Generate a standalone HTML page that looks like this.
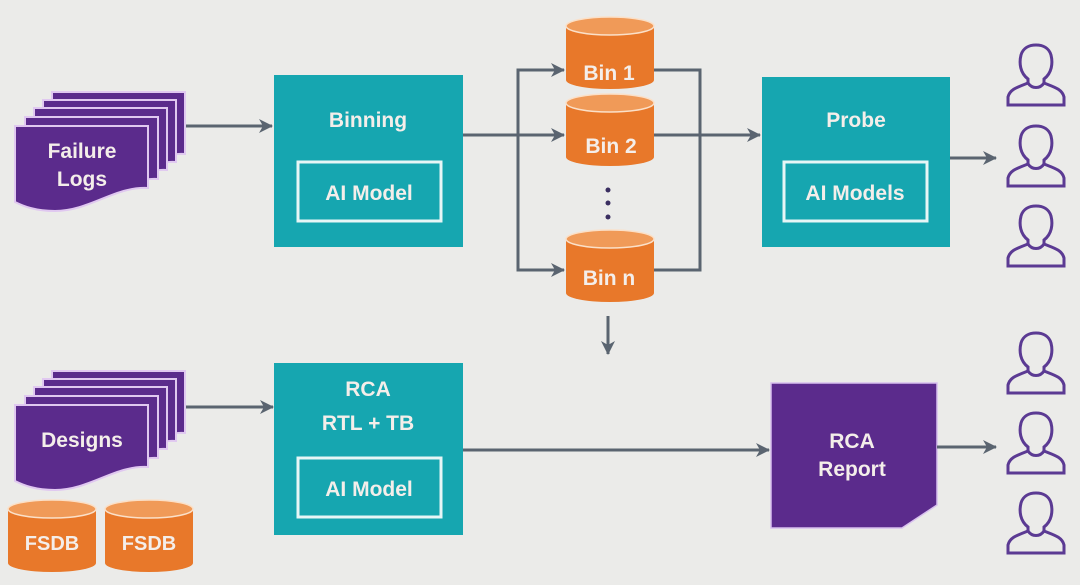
<!DOCTYPE html>
<html><head><meta charset="utf-8"><style>
html,body{margin:0;padding:0;background:#ebebe9;}
svg{display:block;}
text{font-family:"Liberation Sans",sans-serif;font-weight:bold;fill:#f4eeea;text-anchor:middle;}
</style></head><body>
<svg width="1080" height="585" viewBox="0 0 1080 585" xmlns="http://www.w3.org/2000/svg">
<defs>
<marker id="ah" markerWidth="14" markerHeight="14" refX="13" refY="7" orient="auto" markerUnits="userSpaceOnUse">
<path d="M0,0 L14,7 L0,14 L4,7 z" fill="#5a6470"/>
</marker>
<g id="page">
<path d="M0,0 H133 V62 C100,60 75,85 40,85 C20,85 8,80 0,76 Z" fill="#5b2b8c" stroke="#e0c8f0" stroke-width="2"/>
</g>
<g id="person" fill="none" stroke="#5b3a93" stroke-width="3">
<path d="M22,34 C14,28 13,18 15,10 C17,3 23,0 30,0 C37,0 43,3 45,10 C47,18 46,28 38,34 L38,38 C48,42 56,44 58,52 L58,60 L2,60 L2,52 C4,44 12,42 22,38 Z"/>
<path d="M22,38 C26,44 34,44 38,38"/>
</g>
<g id="cyl">
<path d="M0,9 V63 A44,9 0 0 0 88,63 V9 Z" fill="#e8782a"/>
<ellipse cx="44" cy="9" rx="44" ry="9" fill="#f09a58" stroke="#fbe0c8" stroke-width="1.5"/>
</g>
</defs>

<use href="#page" x="52" y="92"/>
<use href="#page" x="43" y="100"/>
<use href="#page" x="34" y="108"/>
<use href="#page" x="25" y="117"/>
<use href="#page" x="15" y="126"/>
<text x="82" y="158" font-size="21">Failure</text>
<text x="82" y="186" font-size="21">Logs</text>

<line x1="186" y1="126" x2="272" y2="126" stroke="#5a6470" stroke-width="3" marker-end="url(#ah)"/>

<rect x="274" y="75" width="189" height="172" fill="#16a6b0"/>
<text x="368" y="127" font-size="21">Binning</text>
<rect x="298" y="162" width="143" height="59" fill="none" stroke="#e6f6f6" stroke-width="3"/>
<text x="369" y="200" font-size="21">AI Model</text>

<line x1="463" y1="135" x2="564" y2="135" stroke="#5a6470" stroke-width="3" marker-end="url(#ah)"/>
<polyline points="563,70 518,70 518,270 563,270" fill="none" stroke="#5a6470" stroke-width="3"/>
<line x1="540" y1="70" x2="564" y2="70" stroke="#5a6470" stroke-width="3" marker-end="url(#ah)"/>
<line x1="540" y1="270" x2="564" y2="270" stroke="#5a6470" stroke-width="3" marker-end="url(#ah)"/>
<polyline points="653,70 700,70 700,270 653,270" fill="none" stroke="#5a6470" stroke-width="3"/>
<line x1="653" y1="135" x2="760" y2="135" stroke="#5a6470" stroke-width="3" marker-end="url(#ah)"/>
<line x1="608" y1="316" x2="608" y2="354" stroke="#5a6470" stroke-width="3" marker-end="url(#ah)"/>

<use href="#cyl" x="566" y="17"/>
<text x="609" y="80" font-size="21">Bin 1</text>
<use href="#cyl" x="566" y="94"/>
<text x="611" y="153" font-size="21">Bin 2</text>
<circle cx="608" cy="190" r="2.5" fill="#3a2e60"/>
<circle cx="608" cy="203" r="2.5" fill="#3a2e60"/>
<circle cx="608" cy="217" r="2.5" fill="#3a2e60"/>
<use href="#cyl" x="566" y="230"/>
<text x="609" y="285" font-size="21">Bin n</text>

<rect x="762" y="77" width="188" height="170" fill="#16a6b0"/>
<text x="856" y="127" font-size="21">Probe</text>
<rect x="784" y="162" width="143" height="59" fill="none" stroke="#e6f6f6" stroke-width="3"/>
<text x="855" y="200" font-size="21">AI Models</text>
<line x1="950" y1="158" x2="996" y2="158" stroke="#5a6470" stroke-width="3" marker-end="url(#ah)"/>

<use href="#person" x="1006" y="45"/>
<use href="#person" x="1006" y="126"/>
<use href="#person" x="1006" y="206"/>
<use href="#person" x="1006" y="333"/>
<use href="#person" x="1006" y="413"/>
<use href="#person" x="1006" y="493"/>

<use href="#page" x="52" y="371"/>
<use href="#page" x="43" y="379"/>
<use href="#page" x="34" y="387"/>
<use href="#page" x="25" y="396"/>
<use href="#page" x="15" y="405"/>
<text x="82" y="447" font-size="21">Designs</text>
<line x1="186" y1="407" x2="273" y2="407" stroke="#5a6470" stroke-width="3" marker-end="url(#ah)"/>

<use href="#cyl" x="8" y="500"/>
<text x="52" y="550" font-size="20">FSDB</text>
<use href="#cyl" x="105" y="500"/>
<text x="149" y="550" font-size="20">FSDB</text>

<rect x="274" y="363" width="189" height="172" fill="#16a6b0"/>
<text x="368" y="396" font-size="21">RCA</text>
<text x="368" y="430" font-size="21">RTL + TB</text>
<rect x="298" y="458" width="143" height="59" fill="none" stroke="#e6f6f6" stroke-width="3"/>
<text x="369" y="496" font-size="21">AI Model</text>
<line x1="463" y1="450" x2="769" y2="450" stroke="#5a6470" stroke-width="3" marker-end="url(#ah)"/>

<path d="M771,383 H937 V505 L902,528 H771 Z" fill="#5b2b8c" stroke="#d8c0ee" stroke-width="1.5"/>
<text x="852" y="448" font-size="21">RCA</text>
<text x="852" y="476" font-size="21">Report</text>
<line x1="937" y1="447" x2="996" y2="447" stroke="#5a6470" stroke-width="3" marker-end="url(#ah)"/>
</svg>
</body></html>
